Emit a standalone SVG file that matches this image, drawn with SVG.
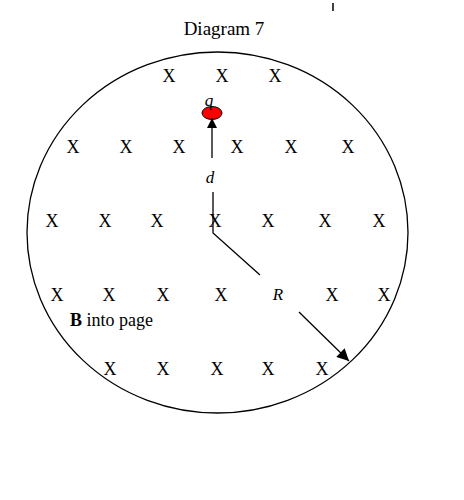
<svg xmlns="http://www.w3.org/2000/svg" width="464" height="500" viewBox="0 0 464 500">
<style>
.t{font-family:"Liberation Serif","Times New Roman",serif;fill:#000}
.x{font-size:18px;text-anchor:middle}
.i{font-style:italic;font-size:17px;text-anchor:middle}
.ln{stroke:#000;stroke-width:1.3;fill:none}
</style>
<defs>
<marker id="ah" viewBox="0 0 10 10" refX="10" refY="5" markerWidth="10" markerHeight="10" markerUnits="userSpaceOnUse" orient="auto">
<path d="M0,0 L10,5 L0,10 z" fill="#000"/>
</marker>
<marker id="ah2" viewBox="0 0 10 10" refX="10" refY="5" markerWidth="14" markerHeight="12" markerUnits="userSpaceOnUse" orient="auto">
<path d="M0,0 L10,5 L0,10 z" fill="#000"/>
</marker>
</defs>
<rect width="464" height="500" fill="#fff"/>
<line x1="333" y1="3" x2="333" y2="11" stroke="#000" stroke-width="1.5"/>
<text id="title" class="t" x="224" y="35" font-size="19" text-anchor="middle">Diagram 7</text>
<g id="region">
<ellipse cx="217.5" cy="232.5" rx="190.5" ry="180.5" class="ln"/>
</g>
<g id="field" class="t x">
<text x="169" y="82">X</text><text x="222" y="82">X</text><text x="275" y="82">X</text>
<text x="73" y="153">X</text><text x="126" y="153">X</text><text x="179" y="153">X</text><text x="237" y="153">X</text><text x="291" y="153">X</text><text x="348" y="153">X</text>
<text x="52" y="227">X</text><text x="105" y="227">X</text><text x="157" y="227">X</text><text x="215" y="227">X</text><text x="268" y="227">X</text><text x="325" y="227">X</text><text x="379" y="227">X</text>
<text x="57" y="301">X</text><text x="109" y="301">X</text><text x="163" y="301">X</text><text x="221" y="301">X</text><text x="332" y="301">X</text><text x="384" y="301">X</text>
<text x="110" y="375">X</text><text x="163" y="375">X</text><text x="217" y="375">X</text><text x="268" y="375">X</text><text x="322" y="375">X</text>
</g>
<g id="label-B"><text class="t" x="70" y="326" font-size="18"><tspan font-weight="bold">B</tspan> into page</text></g>
<g id="charge">
<ellipse cx="212" cy="113" rx="10" ry="6.5" fill="#f00" stroke="#000" stroke-width="1"/>
<text class="t i" x="209" y="106" font-size="19">q</text>
</g>
<g id="connectors">
<line x1="212" y1="158" x2="212" y2="118" class="ln" marker-end="url(#ah)"/>
<polyline points="213,192 213,233 260,275" class="ln"/>
<line x1="299" y1="312" x2="349" y2="361" class="ln" marker-end="url(#ah2)"/>
</g>
<g id="labels">
<text class="t i" x="210" y="183">d</text>
<text class="t i" x="278" y="300" font-size="18">R</text>
</g>
</svg>
